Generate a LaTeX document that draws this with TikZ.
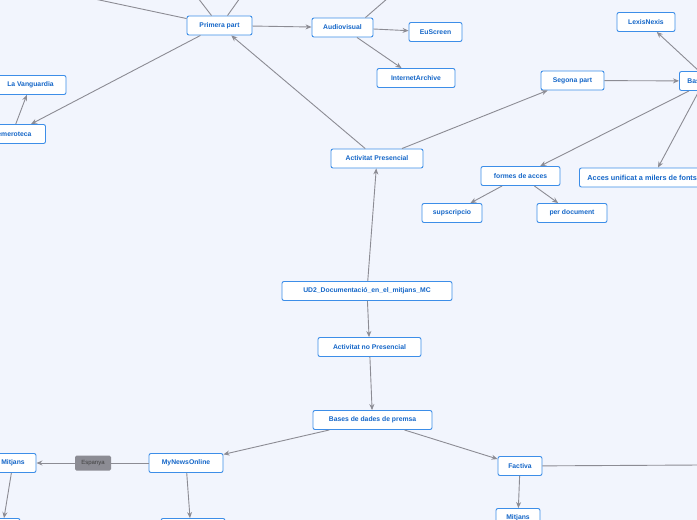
\documentclass[tikz,border=0pt]{standalone}
\usepackage{fontspec}
\setmainfont{Liberation Sans}
\usetikzlibrary{arrows.meta}
\definecolor{bg}{HTML}{F2F5FD}
\definecolor{bd}{HTML}{3D8EE8}
\definecolor{tx}{HTML}{1466C8}
\definecolor{ed}{HTML}{8C8C94}
\tikzset{
 topic/.style={draw=bd,fill=white,rounded corners=2pt,line width=0.9pt,font=\fontsize{6.8}{7}\selectfont\bfseries,text=tx,inner sep=0pt,minimum height=19pt},
 lbl/.style={fill=ed,rounded corners=1.5pt,font=\fontsize{6}{7}\selectfont,text=black!75,inner sep=0pt,minimum height=15pt,minimum width=36pt},
 ln/.style={draw=ed,line width=0.9pt},
 ar/.style={ln,-{Stealth[length=6pt,width=5pt]}}
}
\begin{document}
\begin{tikzpicture}[x=1pt,y=-1pt]
\fill[bg] (0,0) rectangle (697,520);
\useasboundingbox (0,0) rectangle (697,520);
\clip (0,0) rectangle (697,520);
\node[topic,minimum width=65pt] (pp) at (219.5,25.5) {Primera part};
\node[topic,minimum width=61pt] (av) at (342.5,27.5) {Audiovisual};
\node[topic,minimum width=53pt] (eu) at (435.5,32) {EuScreen};
\node[topic,minimum width=78pt] (ia) at (416,78) {InternetArchive};
\node[topic,minimum width=71pt] (lv) at (30.5,85) {La Vanguardia};
\node[topic,minimum width=67pt] (he) at (12,134) {Hemeroteca};
\node[topic,minimum width=58pt] (ln) at (646,22) {LexisNexis};
\node[topic,minimum width=63pt] (sp) at (572.5,80.5) {Segona part};
\node[topic,inner xsep=8pt,anchor=west] (ba) at (679,81) {Bases de dades};
\node[topic,minimum width=92pt] (ap) at (377,158.5) {Activitat Presencial};
\node[topic,minimum width=79pt] (fa) at (520.5,176) {formes de acces};
\node[topic,minimum width=60pt] (su) at (452,213) {supscripcio};
\node[topic,minimum width=70pt] (pd) at (572,213) {per document};
\node[topic,inner xsep=8pt,anchor=west,font=\fontsize{7.3}{8}\selectfont\bfseries] (au) at (579,177.5) {Acces unificat a milers de fonts};
\node[topic,minimum width=170pt] (ud) at (367,291) {UD2\_Documentació\_en\_el\_mitjans\_MC};
\node[topic,minimum width=103pt] (an) at (369.5,347) {Activitat no Presencial};
\node[topic,minimum width=119pt] (bp) at (372.5,420) {Bases de dades de premsa};
\node[topic,minimum width=74pt] (mn) at (186,463) {MyNewsOnline};
\node[lbl] (es) at (93,463) {Espanya};
\node[topic,minimum width=46pt] (m1) at (13,463) {Mitjans};
\node[topic,minimum width=44pt] (fc) at (520,466) {Factiva};
\node[topic,minimum width=44pt] (m2) at (518,518) {Mitjans};
\node[topic,minimum width=40pt] (c1) at (0,528) {};
\node[topic,minimum width=64pt] (c2) at (193,528) {};
\coordinate (r1) at (700,465);
\coordinate (t1) at (90,-2);
\coordinate (t2) at (198,-2);
\coordinate (t3) at (240,-2);
\coordinate (t4) at (388,-2);
\draw[ln] (pp.north west) ++(0,3) -- (t1);
\draw[ln] (pp.north) ++(-8,0) -- (t2);
\draw[ln] (pp.north) ++(8,0) -- (t3);
\draw[ln] (av.north east) ++(-8,0) -- (t4);
\draw[ar] (ud) -- (ap);
\draw[ar] (ap) -- (pp);
\draw[ar] (ap) -- (sp);
\draw[ar] (pp) -- (av);
\draw[ar] (pp) -- (he);
\draw[ar] (he) -- (lv);
\draw[ar] (av) -- (eu);
\draw[ar] (av) -- (ia);
\draw[ar] (sp) -- (ba);
\draw[ar] (ba.north west) ++(20,0) -- (ln);
\draw[ar] (ba.south west) ++(10,0) -- (fa);
\draw[ar] (ba.south west) ++(20,0) -- (au.north west -| 658,0);
\draw[ar] (fa) -- (su);
\draw[ar] (fa) -- (pd);
\draw[ar] (ud) -- (an);
\draw[ar] (an) -- (bp);
\draw[ar] (bp) -- (mn);
\draw[ar] (bp) -- (fc);
\draw[ln] (mn) -- (es);
\draw[ar] (es) -- (m1);
\draw[ar] (m1) -- (c1.north -| 4,0);
\draw[ar] (mn) -- (c2.north -| 190,0);
\draw[ar] (fc) -- (m2);
\draw[ln] (fc) -- (r1);
\end{tikzpicture}
\end{document}
